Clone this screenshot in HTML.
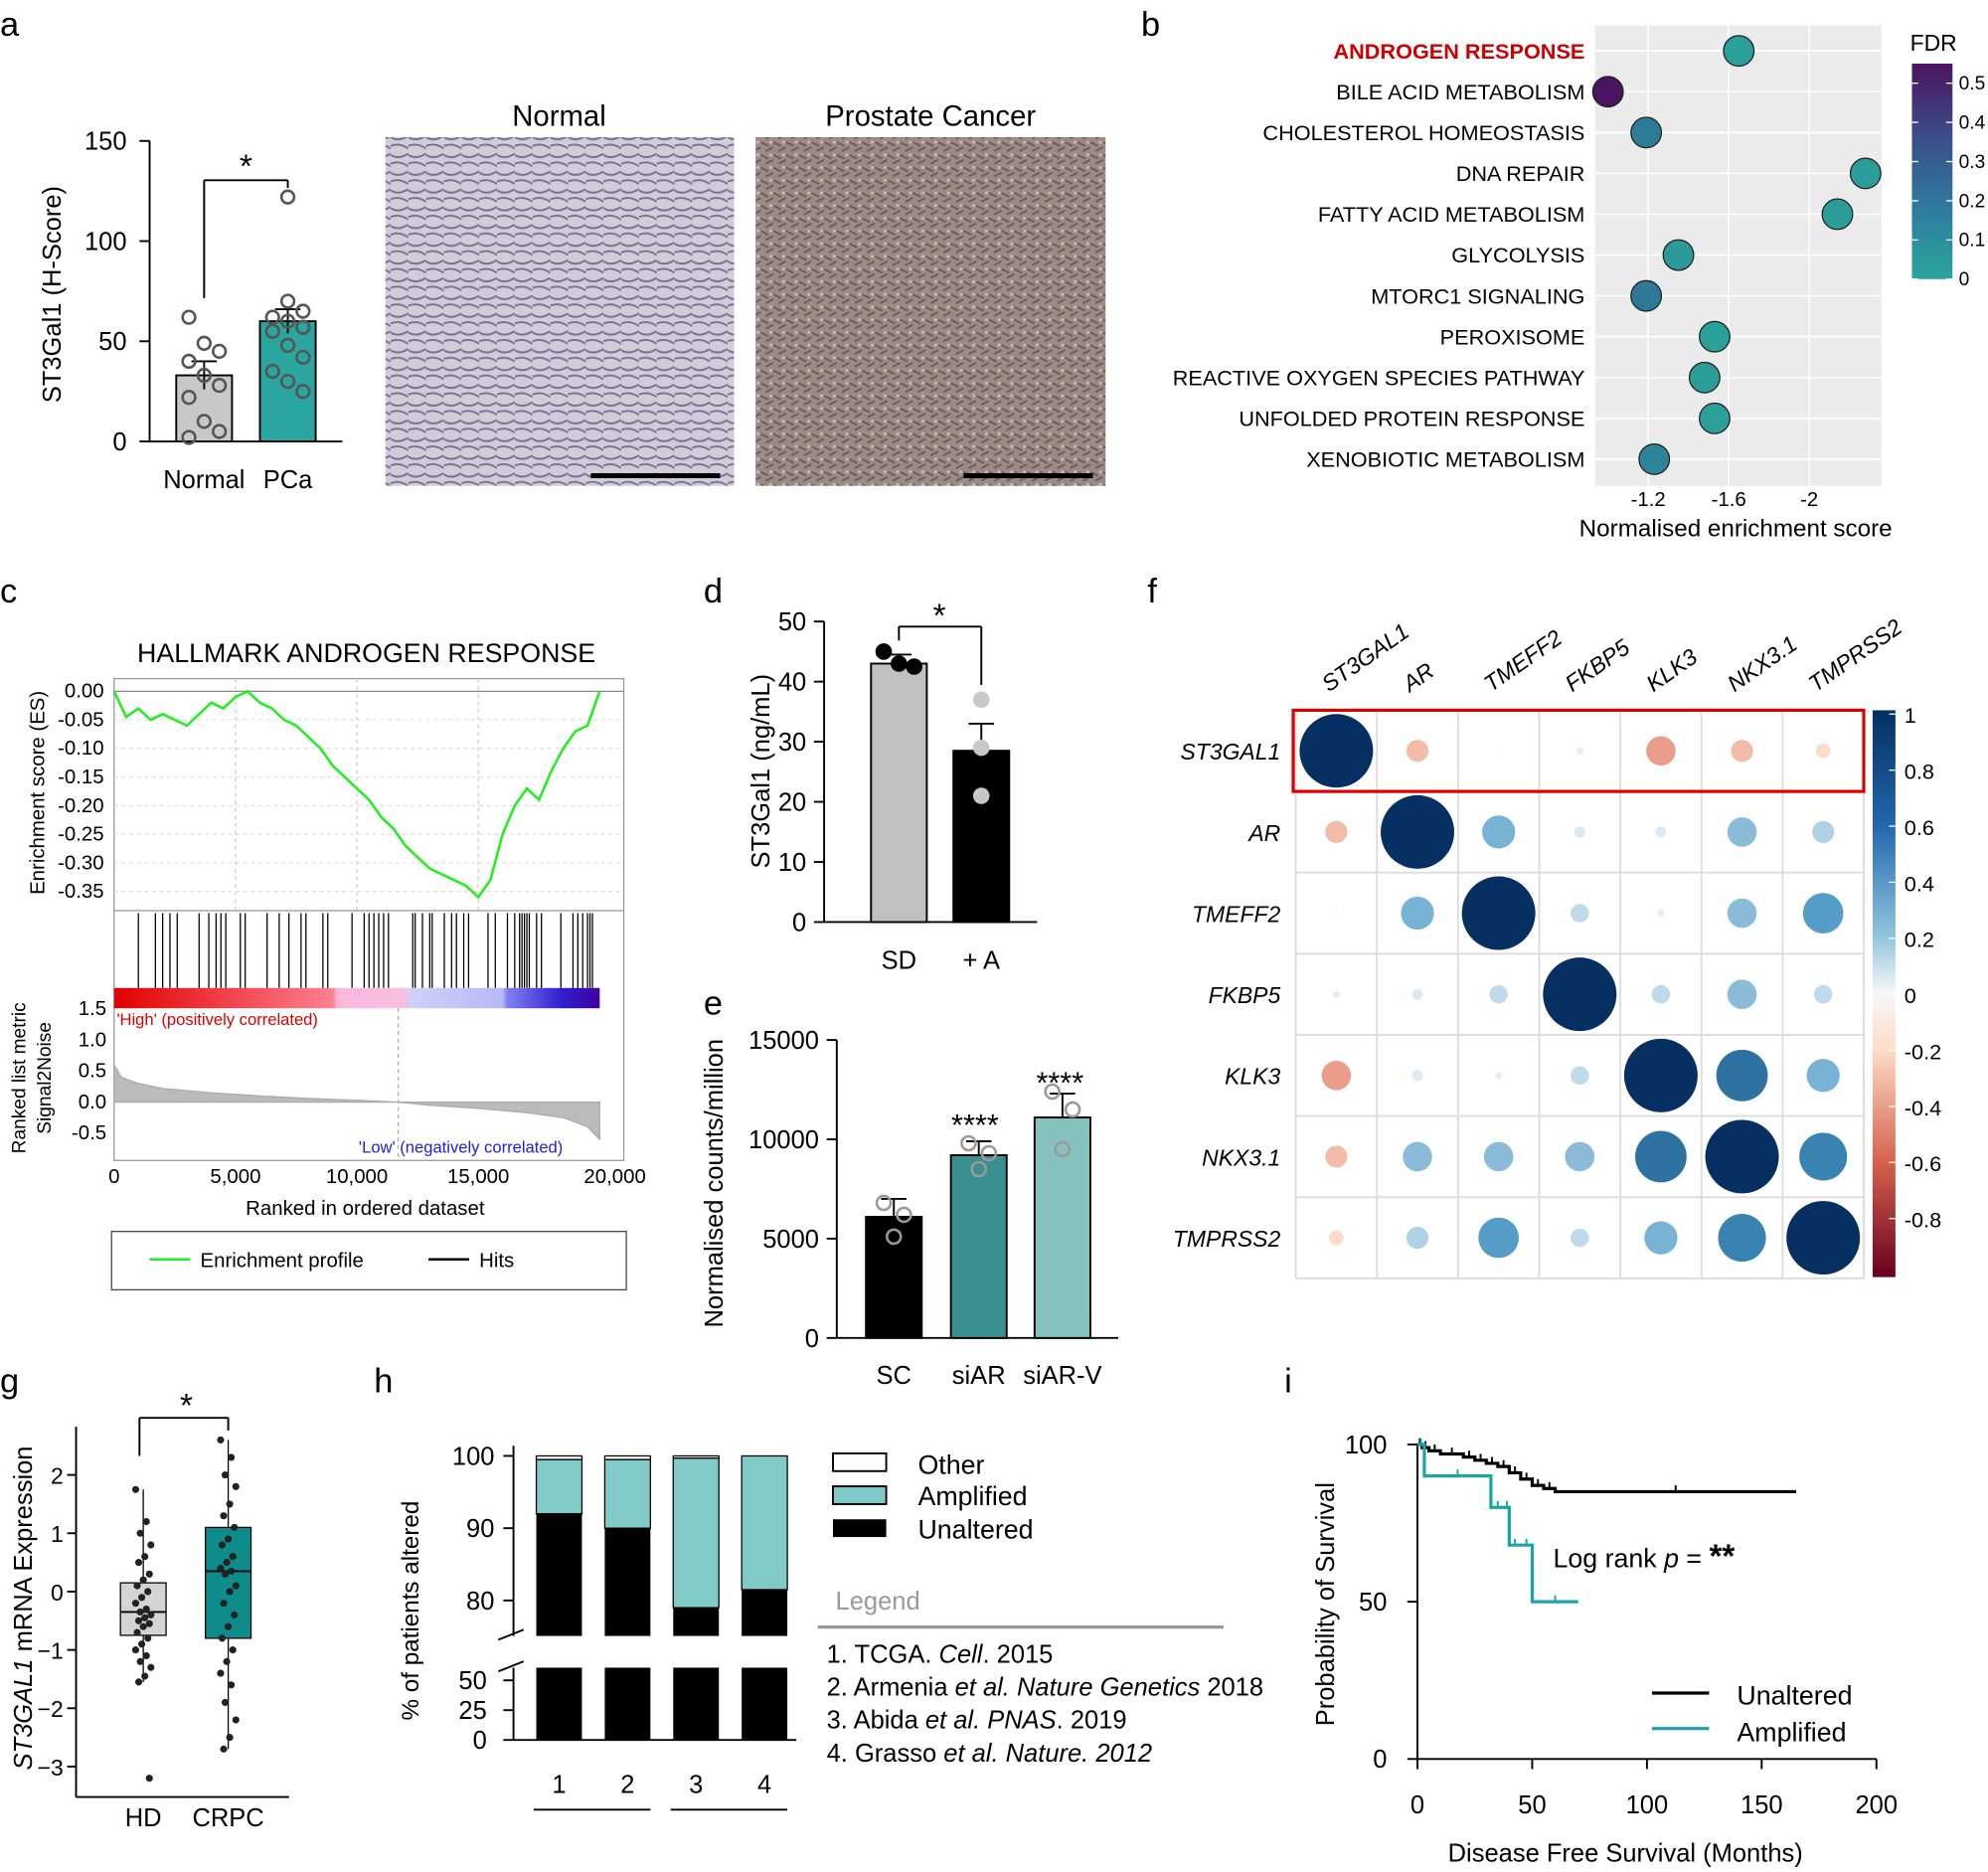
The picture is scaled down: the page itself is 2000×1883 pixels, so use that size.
<!DOCTYPE html>
<html><head><meta charset="utf-8"><style>
html,body{margin:0;padding:0;background:#fff}
svg{display:block;font-family:"Liberation Sans",Arial,sans-serif}
</style></head><body>
<svg id="fig" width="2000" height="1883" viewBox="0 0 1568 1476" xmlns="http://www.w3.org/2000/svg">
<defs>
<linearGradient id="rankbar" x1="0" x2="1" y1="0" y2="0">
<stop offset="0" stop-color="#e00000"/><stop offset="0.45" stop-color="#ff8090"/><stop offset="0.46" stop-color="#f8b8dd"/><stop offset="0.6" stop-color="#f8c0e0"/><stop offset="0.61" stop-color="#d0d0f8"/><stop offset="0.8" stop-color="#b8b8f8"/><stop offset="0.81" stop-color="#8080f0"/><stop offset="0.92" stop-color="#3020d0"/><stop offset="1" stop-color="#4000a0"/></linearGradient>
<linearGradient id="fdr" x1="0" x2="0" y1="0" y2="1"><stop offset="0" stop-color="#4b1460"/><stop offset="0.35" stop-color="#3b4f8a"/><stop offset="0.7" stop-color="#2e7ea0"/><stop offset="1" stop-color="#2aa59a"/></linearGradient>
<linearGradient id="corr" x1="0" x2="0" y1="0" y2="1"><stop offset="0" stop-color="#053061"/><stop offset="0.2" stop-color="#2166ac"/><stop offset="0.4" stop-color="#92c5de"/><stop offset="0.5" stop-color="#f7f7f7"/><stop offset="0.6" stop-color="#fddbc7"/><stop offset="0.8" stop-color="#d6604d"/><stop offset="1" stop-color="#67001f"/></linearGradient>
<pattern id="tex1" width="14" height="14" patternUnits="userSpaceOnUse"><rect width="14" height="14" fill="#d2ccd8"/><path d="M0 3 Q7 0 14 5 M0 10 Q6 14 14 9" stroke="#7a6e96" stroke-width="1.5" fill="none"/></pattern>
<pattern id="tex2" width="10" height="10" patternUnits="userSpaceOnUse"><rect width="10" height="10" fill="#9c8a85"/><path d="M0 2 L6 5 M4 9 L10 6" stroke="#6b5a60" stroke-width="1.5"/><circle cx="8" cy="2" r="1.2" fill="#c8bcb4"/></pattern>
</defs>
<g id="root"></g>
</svg>
<script>
// ---------- data ----------
const aCats=["Normal","PCa"], aMeans=[33,60], aErr=[7,6];
const aNormal=[62,49,45,40,33,28,22,10,5,2], aPCa=[122,70,65,62,60,57,55,48,42,35,30,25];
const bPathways=["ANDROGEN RESPONSE","BILE ACID METABOLISM","CHOLESTEROL HOMEOSTASIS","DNA REPAIR","FATTY ACID METABOLISM","GLYCOLYSIS","MTORC1 SIGNALING","PEROXISOME","REACTIVE OXYGEN SPECIES PATHWAY","UNFOLDED PROTEIN RESPONSE","XENOBIOTIC METABOLISM"];
const bNES=[-1.65,-1.0,-1.19,-2.28,-2.14,-1.35,-1.19,-1.53,-1.48,-1.53,-1.23];
const bFDR=[0.02,0.5,0.15,0.03,0.03,0.04,0.16,0.02,0.03,0.02,0.12];
const cRanks=[0,500,1000,1500,2000,2500,3000,3500,4000,4500,5000,5500,6000,6500,7000,7500,8000,8500,9000,9500,10000,10500,11000,11500,12000,12500,13000,13500,14000,14500,15000,15500,16000,16500,17000,17500,18000,18500,19000,19500,20000];
const cES=[0,-0.045,-0.03,-0.05,-0.04,-0.05,-0.06,-0.04,-0.02,-0.03,-0.01,0.0,-0.02,-0.03,-0.05,-0.06,-0.08,-0.1,-0.13,-0.15,-0.17,-0.19,-0.22,-0.24,-0.27,-0.29,-0.31,-0.32,-0.33,-0.34,-0.36,-0.33,-0.25,-0.2,-0.17,-0.19,-0.14,-0.1,-0.07,-0.06,0.0];
const cHits=[1000,1700,2000,2300,2600,3500,3900,4200,4400,4600,5200,5400,6300,6800,7200,7700,7900,8600,8800,9800,10300,10500,10700,10900,11100,11300,12300,12400,12700,13000,13100,13600,13900,14100,14400,14600,15400,15700,16200,16500,16700,16800,16900,17000,17100,17400,17600,18400,18900,19100,19300,19500,19600,19700];
const cMetricRanks=[0,300,1000,2000,4000,6000,8000,10000,11700,13000,15000,17000,18500,19500,20000];
const cMetric=[0.6,0.4,0.3,0.22,0.15,0.1,0.06,0.03,0,-0.05,-0.1,-0.17,-0.25,-0.4,-0.6];
const dCats=["SD","+ A"], dMeans=[43,28.5], dErr=[1.5,4.5], dPts=[[45,43,42.5],[37,29,21]];
const eCats=["SC","siAR","siAR-V"], eMeans=[6100,9200,11100], eErr=[900,700,1200], ePts=[[6800,6200,5100],[9800,9300,8500],[12400,11500,9500]];
const fGenes=["ST3GAL1","AR","TMEFF2","FKBP5","KLK3","NKX3.1","TMPRSS2"];
const fR0=[1,-0.3,0.02,0.1,-0.4,-0.3,-0.2];
const fR1=[-0.3,1,0.45,0.15,0.15,0.4,0.3];
const fR2=[0.02,0.45,1,0.25,0.1,0.4,0.55];
const fR3=[0.1,0.15,0.25,1,0.25,0.4,0.25];
const fR4=[-0.4,0.15,0.1,0.25,1,0.7,0.45];
const fR5=[-0.3,0.4,0.4,0.4,0.7,1,0.65];
const fR6=[-0.2,0.3,0.55,0.25,0.45,0.65,1];
const gCats=["HD","CRPC"], gMed=[-0.35,0.35], gQ1=[-0.75,-0.8], gQ3=[0.15,1.1], gLo=[-1.55,-2.7], gHi=[1.75,2.6];
const gHD=[1.75,1.2,1.0,0.8,0.6,0.5,0.3,0.2,0.1,0.0,-0.1,-0.2,-0.3,-0.35,-0.4,-0.45,-0.5,-0.55,-0.6,-0.7,-0.8,-0.9,-1.0,-1.1,-1.2,-1.3,-1.45,-1.55,-3.2];
const gCRPC=[2.6,2.3,2.0,1.8,1.5,1.3,1.1,0.9,0.8,0.6,0.5,0.4,0.35,0.3,0.1,0.0,-0.2,-0.4,-0.6,-0.8,-1.0,-1.2,-1.4,-1.6,-1.9,-2.2,-2.5,-2.7];
const hStudies=["1","2","3","4"], hUnaltered=[92,90,79,81.5], hAmplified=[7.5,9.5,20.7,18.5];
const iUnT=[0,2,5,10,20,25,30,35,40,45,50,55,60,165], iUnS=[100,99,98,97,96,95,94,93,91,89,87,86,85,85];
const iAmT=[0,3,32,38,40,45,50,70], iAmS=[100,90,80,80,68,68,50,50];

// ---------- helpers ----------
const NS="http://www.w3.org/2000/svg";
const root=document.getElementById('root');
function el(tag,attrs,parent,txt){const e=document.createElementNS(NS,tag);for(const k in attrs)e.setAttribute(k,attrs[k]);if(txt!==undefined)e.textContent=txt;(parent||root).appendChild(e);return e;}
function line(x1,y1,x2,y2,st,w,name,p){const e=el('line',{x1,y1,x2,y2,stroke:st||'#000','stroke-width':w||1.5},p);return e;}
function text(x,y,s,size,name,anchor,extra,p){const a={x,y,'font-size':size,'text-anchor':anchor||'middle'};Object.assign(a,extra||{});const e=el('text',a,p,s);return e;}
function rect(x,y,w,h,fill,name,extra,p){const a={x,y,width:w,height:h,fill};Object.assign(a,extra||{});const e=el('rect',a,p);return e;}
function circ(cx,cy,r,fill,name,extra,p){const a={cx,cy,r,fill};Object.assign(a,extra||{});const e=el('circle',a,p);return e;}
function panel(l,x,y){text(x,y,l,27,'panel-label-'+l,'start');}

// ---------- a ----------
panel('a',0,28);
(function(){const ya=v=>348-v*(237/150);
line(118,111,118,348,'#000',1.5,'a-y-axis');line(118,348,270,348,'#000',1.5,'a-x-axis');
[0,50,100,150].forEach(v=>{line(110,ya(v),118,ya(v),'#000',1.5,'a-y-tick');text(100,ya(v)+7,String(v),20,'a-y-tick-label','end');});
const cx=[161,227];
aCats.forEach((c,i)=>{rect(cx[i]-22,ya(aMeans[i]),44,348-ya(aMeans[i]),i?'#2aa5a0':'#c8c8c8','a-bar-'+c,{stroke:'#000','stroke-width':1.5});
line(cx[i],ya(aMeans[i]-aErr[i]),cx[i],ya(aMeans[i]+aErr[i]),'#000',1.5,'a-error');line(cx[i]-10,ya(aMeans[i]+aErr[i]),cx[i]+10,ya(aMeans[i]+aErr[i]),'#000',1.5,'a-error-cap');
text(cx[i],385,c,20,'a-x-label');});
aNormal.forEach((v,j)=>circ(161+((j%3)-1)*12,ya(v),5,'none','a-point-normal',{stroke:'#555','stroke-width':2}));
aPCa.forEach((v,j)=>circ(227+(j==0?0:((j%3)-1)*12),ya(v),5,'none','a-point-pca',{stroke:'#555','stroke-width':2}));
line(161,142,161,235,'#000',1.5,'a-sig-bracket');line(161,142,227,142,'#000',1.5,'a-sig-bracket');line(227,142,227,148,'#000',1.5,'a-sig-bracket');
text(194,140,'*',26,'a-sig-star');
text(48,232,'ST3Gal1 (H-Score)',20,'a-y-title','middle',{transform:'rotate(-90 48 232)'});
rect(304,108,275,275,'url(#tex1)','a-ihc-normal');rect(596,108,276,275,'url(#tex2)','a-ihc-cancer');
text(441,99,'Normal',23,'a-ihc-title-normal');text(734,99,'Prostate Cancer',23,'a-ihc-title-cancer');
line(466,375,568,375,'#000',4,'a-scale-bar');line(760,375,862,375,'#000',4,'a-scale-bar');})();

// ---------- b ----------
panel('b',900,28);
(function(){const xb=v=>1300+(-v-1.2)*158.75; const yb=i=>40+i*32.2;
rect(1258,20,226,363,'#ebebeb','b-plot-bg');
[-1.2,-1.6,-2].forEach(v=>line(xb(v),20,xb(v),383,'#fff',1.2,'b-grid'));
bPathways.forEach((p,i)=>{line(1258,yb(i),1484,yb(i),'#fff',1.2,'b-grid');
text(1250,yb(i)+6,p,17,'b-label-'+p.toLowerCase().replace(/ /g,'-'),'end',i==0?{fill:'#cc0000','font-weight':'bold'}:{});});
const col=f=>{const t=Math.min(1,f/0.5);const a=[42,165,154],m=[46,110,150],b=[75,20,96];let c;if(t<0.4){const u=t/0.4;c=a.map((v,k)=>v+(m[k]-v)*u);}else{const u=(t-0.4)/0.6;c=m.map((v,k)=>v+(b[k]-v)*u);}return 'rgb('+c.map(Math.round).join(',')+')';};
bNES.forEach((v,i)=>circ(xb(v),yb(i),12,col(bFDR[i]),'b-dot-'+i,{stroke:'#222','stroke-width':1}));
[-1.2,-1.6,-2].forEach(v=>text(xb(v),399,String(v),16,'b-x-tick-label'));
text(1369,423,'Normalised enrichment score',19,'b-x-title');
text(1525,40,'FDR',18,'b-legend-title');rect(1508,50,32,170,'url(#fdr)','b-colorbar');
[0.5,0.4,0.3,0.2,0.1,0].forEach((v,k)=>{const y=220-v*(170/0.55);text(1545,y+5,String(v),15,'b-colorbar-label','start');line(1508,y,1513,y,'#fff',1,'b-colorbar-tick');line(1535,y,1540,y,'#fff',1,'b-colorbar-tick');});})();

// ---------- c ----------
panel('c',0,475);
(function(){const xc=r=>90+r*(383/20000), yc=v=>545-v*451, ym=v=>869-v*49;
text(289,522,'HALLMARK ANDROGEN RESPONSE',21,'c-title');
rect(90,535,402,380,'none','c-frame',{stroke:'#999','stroke-width':1});
[5000,10000,15000].forEach(r=>line(xc(r),535,xc(r),718,'#ccc',1,'c-grid',null).setAttribute('stroke-dasharray','3,3'));
[-0.05,-0.1,-0.15,-0.2,-0.25,-0.3,-0.35].forEach(v=>line(90,yc(v),492,yc(v),'#ddd',1,'c-grid').setAttribute('stroke-dasharray','3,3'));
line(90,545,492,545,'#888',1,'c-zero-line');
[0,-0.05,-0.1,-0.15,-0.2,-0.25,-0.3,-0.35].forEach(v=>text(82,yc(v)+5,v.toFixed(2),16,'c-es-tick-label','end'));
text(35,625,'Enrichment score (ES)',16,'c-es-title','middle',{transform:'rotate(-90 35 625)'});
const p=el('polyline',{points:cRanks.map((r,i)=>xc(r)+','+yc(cES[i])).join(' '),fill:'none',stroke:'#22ee22','stroke-width':2});

line(90,718,492,718,'#999',1,'c-divider');
cHits.forEach(r=>line(xc(r),720,xc(r),779,'#000',1,'c-hit'));
rect(90,779,383,16,'url(#rankbar)','c-rank-colorbar');
let d='M'+xc(0)+','+ym(0);cMetricRanks.forEach((r,i)=>d+=' L'+xc(r)+','+ym(cMetric[i]));d+=' L'+xc(20000)+','+ym(0)+' Z';
const a=el('path',{d,fill:'#bbb',stroke:'#aaa'});
line(xc(11700),795,xc(11700),915,'#aaa',1,'c-zero-cross').setAttribute('stroke-dasharray','3,3');
[1.5,1.0,0.5,0.0,-0.5].forEach(v=>text(84,ym(v)+5,v.toFixed(1),16,'c-metric-tick-label','end'));
text(92,808,"'High' (positively correlated)",13,'c-high-label','start',{fill:'#e00000'});
text(444,909,"'Low' (negatively correlated)",13,'c-low-label','end',{fill:'#2020e0'});
text(20,850,'Ranked list metric',15,'c-metric-title','middle',{transform:'rotate(-90 20 850)'});
text(40,850,'Signal2Noise',15,'c-metric-title2','middle',{transform:'rotate(-90 40 850)'});
[0,5000,10000,15000,20000].forEach(r=>text(xc(r)+(r==20000?12:0),933,r.toLocaleString('en-US'),16,'c-x-tick-label'));
text(288,958,'Ranked in ordered dataset',16,'c-x-title');
rect(88,971,406,46,'none','c-legend-box',{stroke:'#444','stroke-width':1});
line(118,993,150,993,'#22ee22',2,'c-legend-line-es');text(158,999,'Enrichment profile',16,'c-legend-es','start');
line(338,993,370,993,'#000',2,'c-legend-line-hits');text(378,999,'Hits',16,'c-legend-hits','start');})();

// ---------- d ----------
panel('d',555,475);
(function(){const yd=v=>727-v*(237/50);
line(650,490,650,727,'#000',1.5,'d-y-axis');line(650,727,818,727,'#000',1.5,'d-x-axis');
[0,10,20,30,40,50].forEach(v=>{line(642,yd(v),650,yd(v),'#000',1.5,'d-y-tick');text(636,yd(v)+7,String(v),20,'d-y-tick-label','end');});
const cx=[709,774];
dCats.forEach((c,i)=>{rect(cx[i]-22,yd(dMeans[i]),44,727-yd(dMeans[i]),i?'#000':'#c0c0c0','d-bar-'+i,{stroke:'#000','stroke-width':1.5});
line(cx[i],yd(dMeans[i]),cx[i],yd(dMeans[i]+dErr[i]),'#000',1.5,'d-error');line(cx[i]-10,yd(dMeans[i]+dErr[i]),cx[i]+10,yd(dMeans[i]+dErr[i]),'#000',1.5,'d-error-cap');
dPts[i].forEach((v,j)=>circ(cx[i]+(j-1)*12*(i?0:1),yd(v),6.5,i?'#c8c8c8':'#000','d-point'));
text(cx[i],764,c,20,'d-x-label');});
line(709,494,774,494,'#000',1.5,'d-sig-bracket');line(709,494,709,505,'#000',1.5,'d-sig-bracket');line(774,494,774,540,'#000',1.5,'d-sig-bracket');
text(741,494,'*',26,'d-sig-star');
text(607,608,'ST3Gal1 (ng/mL)',20,'d-y-title','middle',{transform:'rotate(-90 607 608)'});})();

// ---------- e ----------
panel('e',555,800);
(function(){const ye=v=>1055-v*(235/15000);
line(660,820,660,1055,'#000',1.5,'e-y-axis');line(660,1055,882,1055,'#000',1.5,'e-x-axis');
[0,5000,10000,15000].forEach(v=>{line(652,ye(v),660,ye(v),'#000',1.5,'e-y-tick');text(646,ye(v)+7,String(v),20,'e-y-tick-label','end');});
const cx=[705,772,838], cols=['#000','#3a9090','#85c2bd'];
eCats.forEach((c,i)=>{rect(cx[i]-22,ye(eMeans[i]),44,1055-ye(eMeans[i]),cols[i],'e-bar-'+c,{stroke:'#000','stroke-width':1.5});
line(cx[i],ye(eMeans[i]),cx[i],ye(eMeans[i]+eErr[i]),'#000',1.5,'e-error');line(cx[i]-10,ye(eMeans[i]+eErr[i]),cx[i]+10,ye(eMeans[i]+eErr[i]),'#000',1.5,'e-error-cap');
ePts[i].forEach((v,j)=>circ(cx[i]+(j==2?0:(j?8:-8)),ye(v),5.5,'none','e-point',{stroke:'#999','stroke-width':2}));
text(cx[i],1091,c,20,'e-x-label');});
text(769,895,'****',24,'e-sig-siar');text(836,862,'****',24,'e-sig-siarv');
text(570,933,'Normalised counts/million',20,'e-y-title','middle',{transform:'rotate(-90 570 933)'});})();

// ---------- f ----------
panel('f',905,475);
(function(){const x0=1022,y0=560,s=64;const M=[fR0,fR1,fR2,fR3,fR4,fR5,fR6];
const col=r=>{const stops=[[-1,[103,0,31]],[-0.6,[214,96,77]],[-0.2,[253,219,199]],[0,[247,247,247]],[0.2,[209,229,240]],[0.6,[67,147,195]],[0.9,[5,48,97]],[1,[5,48,97]]];for(let k=1;k<stops.length;k++){if(r<=stops[k][0]){const a=stops[k-1],b=stops[k],u=(r-a[0])/(b[0]-a[0]);return 'rgb('+a[1].map((v,j)=>Math.round(v+(b[1][j]-v)*u)).join(',')+')';}}return 'rgb(5,48,97)';};
for(let i=0;i<=7;i++){line(x0+i*s,y0,x0+i*s,y0+7*s,'#ddd',1.5,'f-grid');line(x0,y0+i*s,x0+7*s,y0+i*s,'#ddd',1.5,'f-grid');}
fGenes.forEach((g,i)=>{text(1010,y0+i*s+s/2+7,g,18,'f-row-label-'+g,'end',{'font-style':'italic'});
const cx=x0+i*s+s/2;text(cx-6,y0-14,g,18,'f-col-label-'+g,'start',{'font-style':'italic',transform:'rotate(-35 '+(cx-6)+' '+(y0-14)+')'});
M[i].forEach((r,j)=>circ(x0+j*s+s/2,y0+i*s+s/2,Math.max(1,Math.abs(r)*29),col(r),'f-cell-'+g+'-'+fGenes[j]));});
rect(1020,560,450,64,'none','f-highlight-box',{stroke:'#d00','stroke-width':2.5});
rect(1477,560,18,447,'url(#corr)','f-colorbar');
[1,0.8,0.6,0.4,0.2,0,-0.2,-0.4,-0.6,-0.8].forEach(v=>{const y=563+(1-v)*221;text(1502,y+7,String(v),17,'f-colorbar-label','start');line(1490,y,1495,y,'#fff',1,'f-colorbar-tick');});})();

// ---------- g ----------
panel('g',0,1098);
(function(){const yg=v=>1255-v*46;
line(60,1125,60,1417,'#000',1.5,'g-y-axis');line(60,1417,228,1417,'#000',1.5,'g-x-axis');
[2,1,0,-1,-2,-3].forEach(v=>{line(53,yg(v),60,yg(v),'#000',1.5,'g-y-tick');text(50,yg(v)+7,(v<0?'\u2212':'')+Math.abs(v),18,'g-y-tick-label','end');});
const cx=[113,180], cols=['#d4d4d4','#0e8c8c'];
gCats.forEach((c,i)=>{line(cx[i],yg(gLo[i]),cx[i],yg(gHi[i]),'#000',1,'g-whisker');
rect(cx[i]-18,yg(gQ3[i]),36,yg(gQ1[i])-yg(gQ3[i]),cols[i],'g-box-'+c,{stroke:'#000','stroke-width':1});
line(cx[i]-18,yg(gMed[i]),cx[i]+18,yg(gMed[i]),'#000',1.5,'g-median');
(i?gCRPC:gHD).forEach((v,j)=>circ(cx[i]+((j*7)%11-5)*1.2,yg(v),2.8,'#222','g-point'));
text(cx[i],1440,c,20,'g-x-label');});
line(110,1118,180,1118,'#000',1.5,'g-sig-bracket');line(110,1118,110,1148,'#000',1.5,'g-sig-bracket');line(180,1118,180,1128,'#000',1.5,'g-sig-bracket');
text(147,1117,'*',26,'g-sig-star');
const t=el('text',{x:25,y:1268,'font-size':20,'text-anchor':'middle',transform:'rotate(-90 25 1268)'});
el('tspan',{'font-style':'italic'},t,'ST3GAL1');el('tspan',{},t,' mRNA Expression');})();

// ---------- h ----------
panel('h',295,1098);
(function(){const yu=v=>1262-(v-80)*5.7, yl=v=>1372-v*0.94;
line(405,1140,405,1290,'#000',1.5,'h-y-axis-upper');line(405,1315,405,1372,'#000',1.5,'h-y-axis-lower');line(405,1372,628,1372,'#000',1.5,'h-x-axis');
line(393,1293,413,1285,'#000',1.5,'h-axis-break');line(393,1318,413,1310,'#000',1.5,'h-axis-break');
[80,90,100].forEach(v=>{line(397,yu(v),405,yu(v),'#000',1.5,'h-y-tick');text(390,yu(v)+7,String(v),20,'h-y-tick-label','end');});
[0,25,50].forEach(v=>{line(397,yl(v),405,yl(v),'#000',1.5,'h-y-tick');text(384,yl(v)+7,String(v),20,'h-y-tick-label','end');});
const cx=[441,495,549,603];
hStudies.forEach((s,i)=>{rect(cx[i]-18,yu(hUnaltered[i]),36,1290-yu(hUnaltered[i]),'#000','h-bar-unaltered-'+s);
rect(cx[i]-18,yu(hUnaltered[i]+hAmplified[i]),36,yu(hUnaltered[i])-yu(hUnaltered[i]+hAmplified[i]),'#80cac8','h-bar-amplified-'+s,{stroke:'#000','stroke-width':1});
rect(cx[i]-18,yu(100),36,yu(hUnaltered[i]+hAmplified[i])-yu(100),'#fff','h-bar-other-'+s,{stroke:'#000','stroke-width':1});
rect(cx[i]-18,1315,36,57,'#000','h-bar-lower-'+s);
text(cx[i],1414,s,20,'h-x-label');});
line(421,1427,513,1427,'#000',1.5,'h-group-line');line(529,1427,621,1427,'#000',1.5,'h-group-line');
text(330,1270,'% of patients altered',19,'h-y-title','middle',{transform:'rotate(-90 330 1270)'});
rect(657,1146,42,14,'#fff','h-legend-swatch-other',{stroke:'#000','stroke-width':1.5});text(724,1162,'Other',21,'h-legend-other','start');
rect(657,1172,42,14,'#80cac8','h-legend-swatch-amplified',{stroke:'#000','stroke-width':1.5});text(724,1187,'Amplified',21,'h-legend-amplified','start');
rect(657,1198,42,14,'#000','h-legend-swatch-unaltered');text(724,1213,'Unaltered',21,'h-legend-unaltered','start');
text(659,1269,'Legend',20,'h-legend-title','start',{fill:'#999'});line(645,1283,965,1283,'#999',2.5,'h-legend-rule');
const refs=[['1. TCGA. ','Cell','. 2015'],['2. Armenia ','et al. Nature Genetics',' 2018'],['3. Abida ','et al. PNAS','. 2019'],['4. Grasso ','et al. Nature. 2012','']];
refs.forEach((r,k)=>{const t=el('text',{x:652,y:1311+k*26,'font-size':20});el('tspan',{},t,r[0]);el('tspan',{'font-style':'italic'},t,r[1]);el('tspan',{},t,r[2]);});})();

// ---------- i ----------
panel('i',1013,1098);
(function(){const xi=t=>1118+t*1.81, yi=s=>1387-s*2.48;
line(1118,1139,1118,1387,'#000',1.5,'i-y-axis');line(1118,1387,1480,1387,'#000',1.5,'i-x-axis');
[0,50,100].forEach(v=>{line(1110,yi(v),1118,yi(v),'#000',1.5,'i-y-tick');text(1094,yi(v)+7,String(v),20,'i-y-tick-label','end');});
[0,50,100,150,200].forEach(v=>{line(xi(v),1387,xi(v),1395,'#000',1.5,'i-x-tick');text(xi(v),1430,String(v),20,'i-x-tick-label');});
function step(T,S,c,name){let d='M'+xi(T[0])+','+yi(S[0]);for(let k=1;k<T.length;k++)d+=' H'+xi(T[k])+' V'+yi(S[k]);const p=el('path',{d,fill:'none',stroke:c,'stroke-width':2.5});
for(let k=1;k<T.length;k++){const t=(T[k-1]+T[k])/2;line(xi(t),yi(S[k-1])-5,xi(t),yi(S[k-1])+1,c,1.5,name+'-censor');}}
step(iUnT,iUnS,'#000','i-curve-unaltered');step(iAmT,iAmS,'#1aa5a5','i-curve-amplified');
const t=el('text',{x:1225,y:1236,'font-size':21});el('tspan',{},t,'Log rank ');el('tspan',{'font-style':'italic'},t,'p');el('tspan',{},t,' = ');el('tspan',{'font-weight':'bold','font-size':26},t,'**');
line(1303,1335,1348,1335,'#000',2.5,'i-legend-line-unaltered');text(1370,1344,'Unaltered',21,'i-legend-unaltered','start');
line(1303,1363,1348,1363,'#1aa5a5',2.5,'i-legend-line-amplified');text(1370,1373,'Amplified',21,'i-legend-amplified','start');
text(1052,1265,'Probability of Survival',20,'i-y-title','middle',{transform:'rotate(-90 1052 1265)'});
text(1282,1468,'Disease Free Survival (Months)',20,'i-x-title');})();
</script>
</body></html>
